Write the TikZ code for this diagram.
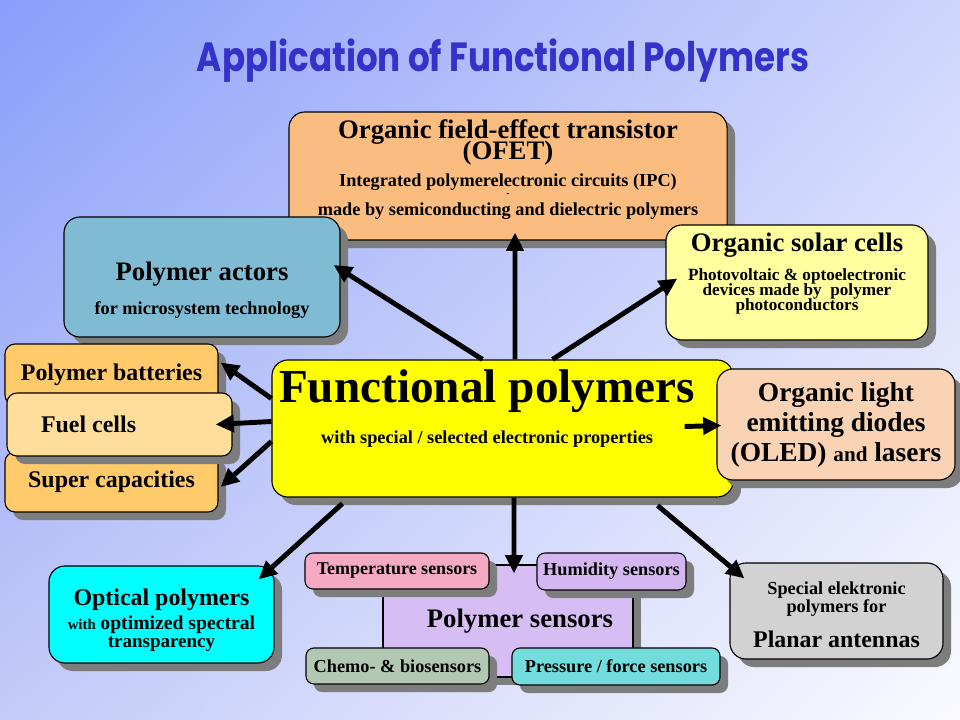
\documentclass[tikz,border=0pt]{standalone}
\usepackage{graphicx}
\usepackage{fontspec}
\setmainfont{Liberation Serif}
\newfontfamily\titlefont{Poppins}
\usetikzlibrary{calc, positioning, shadows, shadings, arrows.meta}
\setlength{\lineskiplimit}{-100pt}

\newcommand{\fsz}[2]{\fontsize{#1}{#2}\selectfont}
\newcommand{\padtop}[1]{\rule{0pt}{#1}}
\newcommand{\padbot}[1]{\rule[-#1]{0pt}{#1}}

\definecolor{bgTL}{RGB}{138,158,250}
\definecolor{bgTR}{RGB}{205,213,252}
\definecolor{bgBL}{RGB}{195,203,248}
\definecolor{bgBR}{RGB}{250,250,255}
\definecolor{titleC}{RGB}{51,51,204}
\definecolor{shadowgray}{RGB}{125,125,125}
\definecolor{ofetC}{RGB}{251,189,127}
\definecolor{actorC}{RGB}{127,187,210}
\definecolor{solarC}{RGB}{255,255,160}
\definecolor{battC}{RGB}{254,202,106}
\definecolor{fuelC}{RGB}{255,222,155}
\definecolor{fpC}{RGB}{255,255,0}
\definecolor{oledC}{RGB}{250,210,180}
\definecolor{opticC}{RGB}{0,255,255}
\definecolor{sensC}{RGB}{214,190,245}
\definecolor{tempC}{RGB}{245,170,195}
\definecolor{humidC}{RGB}{212,182,240}
\definecolor{chemoC}{RGB}{178,200,178}
\definecolor{pressC}{RGB}{115,220,220}
\definecolor{antC}{RGB}{210,210,210}

\tikzset{
  box/.style={draw, line width=0.8pt, rounded corners=0.4cm, inner sep=0pt, align=center,
    drop shadow={shadow xshift=0.2cm, shadow yshift=-0.2cm, fill=shadowgray, opacity=1}},
  midbox/.style={box, rounded corners=0.25cm},
  sbox/.style={box, rounded corners=0.2cm},
  arr/.style={-{Triangle[length=13pt,width=12pt]}, line width=3.5pt},
}

\begin{document}
\begin{tikzpicture}[x=0.025cm, y=-0.025cm]
  \shade[upper left=bgTL, upper right=bgTR, lower left=bgBL, lower right=bgBR] (0,0) rectangle (960,720);
  \useasboundingbox (0,0) rectangle (960,720);

  \node[text=titleC, anchor=base, inner sep=0pt] (title) at (503,72)
    {\resizebox{15.3cm}{\height}{\titlefont\bfseries\fsz{29}{29}Application of Functional Polymers}};

  % top row
  \node[box, fill=ofetC, minimum width=10.95cm, minimum height=3.2cm, font=\bfseries\fsz{13}{15}] (ofet) at (508,176)
    {{\fsz{19}{15}Organic field-effect transistor}\\
     {\fsz{19}{15}(OFET)}\\[4pt]
     Integrated polymerelectronic circuits (IPC)\hspace*{18pt}\\[-8pt]
     {\fsz{7}{7}-}\\[-1pt]
     made by semiconducting and dielectric polymers\padbot{11.5pt}};
  \node[box, fill=actorC, minimum width=6.9cm, minimum height=3cm, font=\bfseries\fsz{13}{24.8}] (actors) at (202,277)
    {\padtop{32pt}{\fsz{19}{19}Polymer actors}\\ for microsystem technology};
  \node[box, fill=solarC, minimum width=6.55cm, minimum height=2.875cm, font=\bfseries\fsz{12.2}{10.8}] (solar) at (797,282.5)
    {{\fsz{19}{19}Organic solar cells}\\[9.2pt]
     Photovoltaic \& optoelectronic\\ devices made by\ \ polymer\\ photoconductors\padbot{15pt}};

  % left stack
  \node[midbox, fill=battC, minimum width=5.325cm, minimum height=1.525cm, font=\bfseries\fsz{17}{17}] (batt) at (111.5,374.5) {Polymer batteries};
  \node[midbox, fill=battC, minimum width=5.325cm, minimum height=1.5cm, font=\bfseries\fsz{17}{17}] (supercap) at (111.5,482) {Super\ capacities};
  \node[midbox, fill=fuelC, minimum width=5.625cm, minimum height=1.575cm, font=\bfseries\fsz{17}{17}] (fuel) at (119.5,424.5) {Fuel cells\hspace*{44pt}};

  % centre
  \node[box, fill=fpC, minimum width=11.525cm, minimum height=3.425cm, font=\bfseries\fsz{13}{29}] (fp) at (502.5,428.5)
    {{\fsz{33.6}{33.6}Functional polymers}\hspace*{22pt}\\
     with special / selected\ electronic properties\hspace*{22pt}\padbot{31.5pt}};
  \node[box, fill=oledC, minimum width=5.95cm, minimum height=2.775cm, font=\bfseries\fsz{19.5}{21.3}] (oled) at (836,424.5)
    {Organic light\\ emitting diodes\\ (OLED) {\fsz{15}{15}and} lasers};

  % bottom row
  \node[box, fill=opticC, minimum width=5.625cm, minimum height=2.425cm, font=\bfseries\fsz{13.5}{12.8}] (optic) at (161.5,614.5)
    {\padtop{19.5pt}{\fsz{17}{17}Optical polymers}\\[4.2pt]
     {\fsz{10.5}{10.5}with} {\fsz{14}{14}optimized spectral}\\ transparency};
  \node[box, fill=sensC, rounded corners=0pt, minimum width=6.25cm, minimum height=2.8cm, font=\bfseries\fsz{19}{19}] (sens) at (508,621)
    {\hspace*{17pt}Polymer sensors};
  \node[sbox, fill=tempC, minimum width=4.6cm, minimum height=0.9cm, font=\bfseries\fsz{12.8}{12.8}] (temp) at (397,571) {Temperature sensors};
  \node[sbox, fill=humidC, minimum width=3.725cm, minimum height=0.925cm, font=\bfseries\fsz{13}{13}] (humid) at (611.5,571.5) {Humidity sensors};
  \node[sbox, fill=chemoC, minimum width=4.575cm, minimum height=0.9cm, font=\bfseries\fsz{13}{13}] (chemo) at (397.5,666) {Chemo- \& biosensors};
  \node[sbox, fill=pressC, minimum width=5.2cm, minimum height=0.925cm, font=\bfseries\fsz{13}{13}] (press) at (616,666.5) {Pressure / force sensors};
  \node[box, fill=antC, minimum width=5.325cm, minimum height=2.4cm, font=\bfseries\fsz{13}{12.8}] (antenna) at (836.5,611)
    {\padtop{14pt}Special elektronic\\ polymers for\\[12pt] {\fsz{17}{17}Planar antennas}};

  % arrows out of the centre
  \draw[arr] ($(fp.north)+(12.5,0)$) -- ($(ofet.south)+(7,-8)$);
  \draw[arr] ($(fp.north)+(-20,0)$) -- ($(actors.east)+(-7,-12)$);
  \draw[arr] ($(fp.north)+(50,0)$) -- ($(solar.west)+(12,-4)$);
  \draw[arr] ($(fp.west)+(0,-30)$) -- ($(batt.east)+(2,-12)$);
  \draw[arr] ($(fp.west)+(0,-7)$) -- ($(fuel.east)+(-17,0)$);
  \draw[arr] ($(fp.west)+(0,13)$) -- ($(supercap.east)+(2,5)$);
  \draw[arr] ($(fp.east)+(-49,-2)$) -- ($(oled.west)+(5,1)$);
  \draw[arr] ($(fp.south west)+(71,6)$) -- ($(optic.north east)+(-16,14)$);
  \draw[arr] ($(fp.south)+(11.5,0)$) -- ($(sens.north)+(6,9)$);
  \draw[arr] ($(fp.south east)+(-76,8)$) -- ($(antenna.north west)+(15,16)$);
\end{tikzpicture}
\end{document}
